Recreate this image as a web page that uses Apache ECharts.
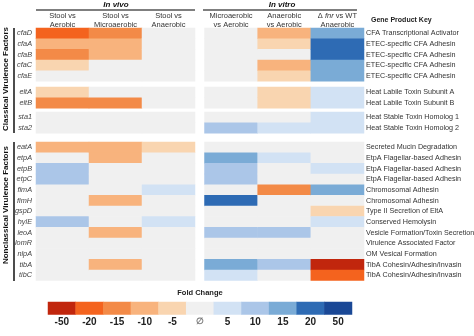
<!DOCTYPE html>
<html>
<head>
<meta charset="utf-8">
<script src="https://cdn.jsdelivr.net/npm/echarts@6/dist/echarts.min.js"></script>
<style>
  html, body { margin: 0; padding: 0; background: #fff; }
  #chart { width: 474px; height: 336px; }
</style>
</head>
<body>
<div id="chart"></div>
<script>
// Comparison conditions (columns)
const conditions = [
  'Stool vs\nAerobic', 'Stool vs\nMicroaerobic', 'Stool vs\nAnaerobic',
  'Microaerobic\nvs Aerobic', 'Anaerobic\nvs Aerobic', 'Δ fnr vs WT\nAnaerobic'
];

// Genes, grouped into the row blocks drawn on the chart
const cfaGenes = ['cfaD', 'cfaA', 'cfaB', 'cfaC', 'cfaE'];
const eltGenes = ['eltA', 'eltB'];
const staGenes = ['sta1', 'sta2'];
const nonclassicalGenes = ['eatA', 'etpA', 'etpB', 'etpC', 'fimA', 'fimH', 'gspD',
  'hylE', 'leoA', 'lomR', 'nlpA', 'tibA', 'tibC'];

const genes = [...cfaGenes, ...eltGenes, ...staGenes, ...nonclassicalGenes];

// Gene product key, one entry per gene in the order above
const products = [
  'CFA Transcriptional Activator', 'ETEC-specific CFA Adhesin', 'ETEC-specific CFA Adhesin',
  'ETEC-specific CFA Adhesin', 'ETEC-specific CFA Adhesin',
  'Heat Labile Toxin Subunit A', 'Heat Labile Toxin Subunit B',
  'Heat Stable Toxin Homolog 1', 'Heat Stable Toxin Homolog 2',
  'Secreted Mucin Degradation', 'EtpA Flagellar-based Adhesin', 'EtpA Flagellar-based Adhesin',
  'EtpA Flagellar-based Adhesin', 'Chromosomal Adhesin', 'Chromosomal Adhesin',
  'Type II Secretion of EltA', 'Conserved Hemolysin', 'Vesicle Formation/Toxin Secretion',
  'Virulence Associated Factor', 'OM Vesical Formation',
  'TibA Cohesin/Adhesin/Invasin', 'TibA Cohesin/Adhesin/Invasin'
];

// Fold change per condition (gene order as above; 0 = no change)
const stoolVsAerobic        = [-20, -10, -15, -5, 0,  -5, -15,  0, 0,  -10, 0, 10, 10, 0, 0, 0, 10, 0, 0, 0, 0, 0];
const stoolVsMicroaerobic   = [-15, -10, -10, 0, 0,   0, -15,   0, 0,  -10, -10, 0, 0, 0, -10, 0, 0, -10, 0, 0, -10, 0];
const stoolVsAnaerobic      = [0, 0, 0, 0, 0,         0, 0,     0, 0,  -5, 0, 0, 0, 5, 0, 0, 5, 0, 0, 0, 0, 0];
const microaerobicVsAerobic = [0, 0, 0, 0, 0,         0, 0,     0, 10, 0, 15, 10, 10, 0, 20, 0, 0, 10, 0, 0, 15, 5];
const anaerobicVsAerobic    = [-10, -5, 0, -10, -5,   -5, -5,   0, 5,  0, 5, 0, 0, -15, 0, 0, 0, 10, 0, 0, 10, 0];
const fnrVsWtAnaerobic      = [15, 20, 20, 15, 15,    5, 5,     5, 5,  0, 0, 5, 0, 15, 0, -5, 5, 0, 0, 0, -50, -20];

const columns = [stoolVsAerobic, stoolVsMicroaerobic, stoolVsAnaerobic,
  microaerobicVsAerobic, anaerobicVsAerobic, fnrVsWtAnaerobic];

// Fold change scale
const scaleValues = [-50, -20, -15, -10, -5, 0, 5, 10, 15, 20, 50];
const scaleLabels = ['-50', '-20', '-15', '-10', '-5', '∅', '5', '10', '15', '20', '50'];
const scaleColors = ['#c1260d', '#f4631e', '#f38a47', '#f8b37d', '#f9d5b0', '#f0f0f0',
  '#d2e2f4', '#abc6e8', '#7aabd6', '#2e6bb4', '#1a4896'];

// ---- layout ----
const FONT = '"Liberation Sans", Arial, sans-serif';
const rowH = 10.66;
const blocks = [
  { genes: cfaGenes, top: 28 },
  { genes: eltGenes, top: 87 },
  { genes: staGenes, top: 112 },
  { genes: nonclassicalGenes, top: 142 }
];
const groups = [
  { left: 36, width: 159, cols: [0, 1, 2] },
  { left: 204.5, width: 159.5, cols: [3, 4, 5] }
];

const grid = [], xAxis = [], yAxis = [], series = [];

blocks.forEach((blk, b) => {
  groups.forEach((grp, g) => {
    const idx = grid.length;
    grid.push({ left: grp.left, top: blk.top, width: grp.width, height: blk.genes.length * rowH,
      outerBoundsMode: 'none' });
    xAxis.push({
      type: 'category', gridIndex: idx, position: 'top',
      data: grp.cols.map(c => conditions[c]),
      show: b === 0,
      axisLine: { show: false }, axisTick: { show: false }, splitLine: { show: false },
      axisLabel: {
        show: b === 0, interval: 0, margin: -1, fontFamily: FONT, fontSize: 7.5,
        color: '#333', lineHeight: 8.6,
        formatter: v => v.replace('fnr', '{i|fnr}'),
        rich: { i: { fontStyle: 'italic', fontFamily: FONT, fontSize: 7.5, color: '#333', lineHeight: 8.6 } }
      }
    });
    const isLeft = g === 0;
    yAxis.push({
      type: 'category', gridIndex: idx, inverse: true,
      position: isLeft ? 'left' : 'right',
      data: blk.genes,
      axisLine: { show: false }, axisTick: { show: false }, splitLine: { show: false },
      axisLabel: isLeft
        ? { interval: 0, margin: 4, fontFamily: FONT, fontSize: 7.3, fontStyle: 'italic', color: '#444' }
        : { interval: 0, margin: 2, fontFamily: FONT, fontSize: 7.2, color: '#333',
            formatter: v => products[genes.indexOf(v)] }
    });
    const data = [];
    grp.cols.forEach((c, ci) => {
      blk.genes.forEach((gene, ri) => {
        data.push([ci, ri, columns[c][genes.indexOf(gene)]]);
      });
    });
    series.push({
      type: 'heatmap', xAxisIndex: idx, yAxisIndex: idx, data,
      itemStyle: { borderWidth: 0 },
      emphasis: { disabled: true }, silent: true
    });
  });
});

// Fold change colour key as a single-row heatmap
const keyIdx = grid.length;
grid.push({ left: 48, top: 302, width: 304, height: 12.5, outerBoundsMode: 'none' });
xAxis.push({
  type: 'category', gridIndex: keyIdx, position: 'bottom', data: scaleLabels,
  axisLine: { show: false }, axisTick: { show: false },
  axisLabel: {
    interval: 0, margin: 3, fontFamily: FONT, fontSize: 10, fontWeight: 'bold', color: '#222',
    formatter: v => v === '∅' ? '{e|∅}' : v,
    rich: { e: { fontFamily: FONT, fontSize: 9, color: '#777' } }
  }
});
yAxis.push({ type: 'category', gridIndex: keyIdx, data: [''], show: false });
series.push({
  type: 'heatmap', xAxisIndex: keyIdx, yAxisIndex: keyIdx,
  data: scaleValues.map((v, i) => [i, 0, v]),
  itemStyle: { borderWidth: 0 }, emphasis: { disabled: true }, silent: true
});

const txt = (x, y, text, style, rotation) => ({
  type: 'text', x, y, rotation: rotation || 0, silent: true,
  style: Object.assign({ text, fontFamily: FONT, fill: '#111', align: 'center', verticalAlign: 'middle' }, style)
});
const line = (x1, y1, x2, y2, w) => ({
  type: 'line', silent: true, shape: { x1, y1, x2, y2 },
  style: { stroke: '#000', lineWidth: w }
});

const graphic = [
  txt(116, 4.5, 'In vivo', { fontSize: 8, fontWeight: 'bold', fontStyle: 'italic' }),
  txt(282, 4.5, 'In vitro', { fontSize: 8, fontWeight: 'bold', fontStyle: 'italic' }),
  line(36, 10, 195, 10, 1.2),
  line(203, 10, 357, 10, 1.2),
  txt(371, 20, 'Gene Product Key', { fontSize: 7, fontWeight: 'bold', align: 'left', fill: '#222' }),
  line(14, 28, 14, 133, 1.4),
  line(14, 142, 14, 281, 1.4),
  txt(6, 79, 'Classical Virulence Factors', { fontSize: 8, fontWeight: 'bold' }, Math.PI / 2),
  txt(6, 205, 'Nonclassical Virulence Factors', { fontSize: 8, fontWeight: 'bold' }, Math.PI / 2),
  txt(200, 293, 'Fold Change', { fontSize: 7.5, fontWeight: 'bold', fill: '#222' })
];

const chart = echarts.init(document.getElementById('chart'), null, { renderer: 'canvas' });
chart.setOption({
  animation: false,
  backgroundColor: '#fff',
  grid, xAxis, yAxis, series, graphic,
  visualMap: {
    type: 'piecewise', show: false,
    seriesIndex: series.map((s, i) => i),
    pieces: scaleValues.map((v, i) => ({ value: v, color: scaleColors[i] }))
  }
});
</script>
</body>
</html>
